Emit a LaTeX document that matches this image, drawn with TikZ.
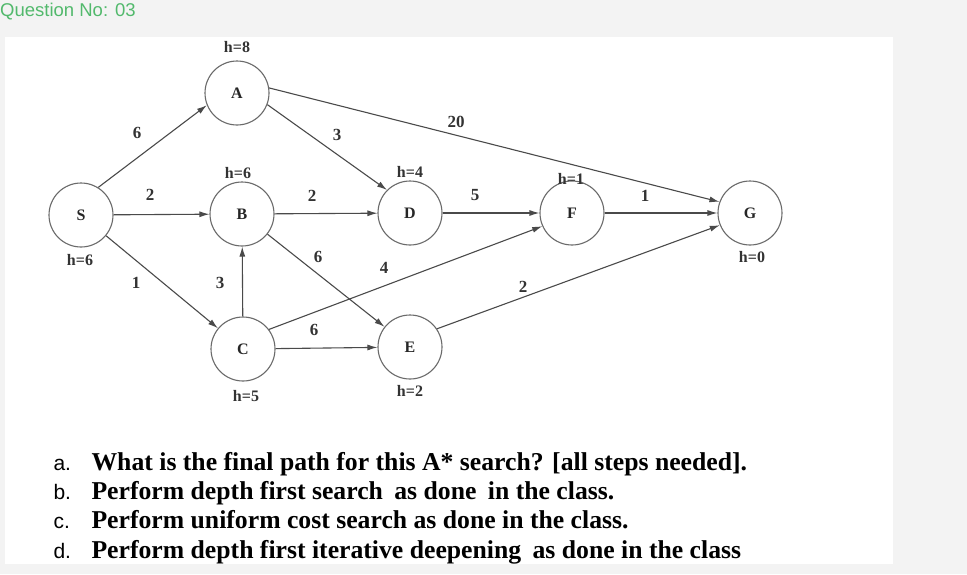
\documentclass[tikz,border=0pt]{standalone}
\usepackage{fontspec}
\setmainfont{Liberation Serif}
\newfontfamily\arialfont{Liberation Sans}
\usetikzlibrary{arrows.meta}
\definecolor{bgc}{HTML}{F3F3F3}
\definecolor{qgreen}{HTML}{52B96C}
\definecolor{edgec}{HTML}{4A4A4A}
\definecolor{circc}{HTML}{6A6A6A}
\begin{document}
\begin{tikzpicture}[x=1pt,y=-1pt,
  state/.style={circle,draw=circc,line width=1.1pt,minimum size=64pt,inner sep=0pt,fill=white,
    font=\fontsize{16}{16}\selectfont\bfseries,text=black!85},
  hlab/.style={font=\fontsize{16}{16}\selectfont\bfseries,text=black!80},
  wlab/.style={font=\fontsize{17}{17}\selectfont\bfseries,text=black!80},
  edge/.style={draw=edgec,line width=1.1pt,-{Latex[length=10pt,width=6pt]}},
  qtext/.style={anchor=base west,font=\fontsize{25.7}{25.7}\selectfont\bfseries},
  qlab/.style={anchor=base west,font=\arialfont\fontsize{21}{21}\selectfont}]
\useasboundingbox (0,0) rectangle (967,574);
\fill[bgc] (0,0) rectangle (967,574);
\fill[white] (5,37) rectangle (893,564);
\node[anchor=base west,text=qgreen,font=\arialfont\fontsize{18.5}{18.5}\selectfont,inner sep=0pt] (title) at (0,16) {Question No: 03};
% nodes
\node[state] (S) at (81,215) {S};
\node[state] (A) at (237,93) {A};
\node[state] (B) at (242,214) {B};
\node[state] (C) at (243,349) {C};
\node[state] (D) at (410,213) {D};
\node[state] (E) at (410,347) {E};
\node[state] (F) at (572,213) {F};
\node[state] (G) at (750,213) {G};
% heuristics
\node[hlab] (hA) at (237,47) {h=8};
\node[hlab] (hS) at (80,260) {h=6};
\node[hlab] (hB) at (238,173) {h=6};
\node[hlab] (hC) at (246,396) {h=5};
\node[hlab] (hE) at (410,391) {h=2};
\node[hlab] (hD) at (410,172) {h=4};
\node[hlab] (hF) at (571,179) {h=1};
\node[hlab] (hG) at (752,257) {h=0};
% edges
\draw[edge] (S.58) -- (A.202);
\draw[edge] (S) -- (B);
\draw[edge] (S) -- (C);
\draw[edge] (A.339) -- (D.135);
\draw[edge] (A.9) -- (G.160);
\draw[edge] (B) -- (D);
\draw[edge] (B) -- (E);
\draw[edge] (C) -- (B);
\draw[edge] (C.37) -- (F.204);
\draw[edge] (C) -- (E);
\draw[edge] (D) -- (F);
\draw[edge] (F) -- (G);
\draw[edge] (E.34) -- (G.202);
% weights
\node[wlab] (wSA) at (137,133) {6};
\node[wlab] (wSB) at (150,195) {2};
\node[wlab] (wSC) at (136,283) {1};
\node[wlab] (wAD) at (337,135) {3};
\node[wlab] (wAG) at (456,122) {20};
\node[wlab] (wBD) at (312,196) {2};
\node[wlab] (wBE) at (318,257) {6};
\node[wlab] (wCB) at (220,283) {3};
\node[wlab] (wCF) at (384,268) {4};
\node[wlab] (wCE) at (314,330) {6};
\node[wlab] (wDF) at (475,195) {5};
\node[wlab] (wFG) at (645,196) {1};
\node[wlab] (wEG) at (523,287) {2};
% questions
\node[qlab] (la) at (50,470) {a.};
\node[qtext] (qa) at (88,470) {What is the final path for this A* search? [all steps needed].};
\node[qlab] (lb) at (50,499) {b.};
\node[qtext] (qb) at (88,499) {Perform depth first search\hspace{5pt} as done\hspace{5pt} in the class.};
\node[qlab] (lc) at (50,528) {c.};
\node[qtext] (qc) at (88,528) {Perform uniform cost search as done in the class.};
\node[qlab] (ld) at (50,558) {d.};
\node[qtext] (qd) at (88,558) {Perform depth first iterative deepening\hspace{5pt} as done in the class};
\end{tikzpicture}
\end{document}
